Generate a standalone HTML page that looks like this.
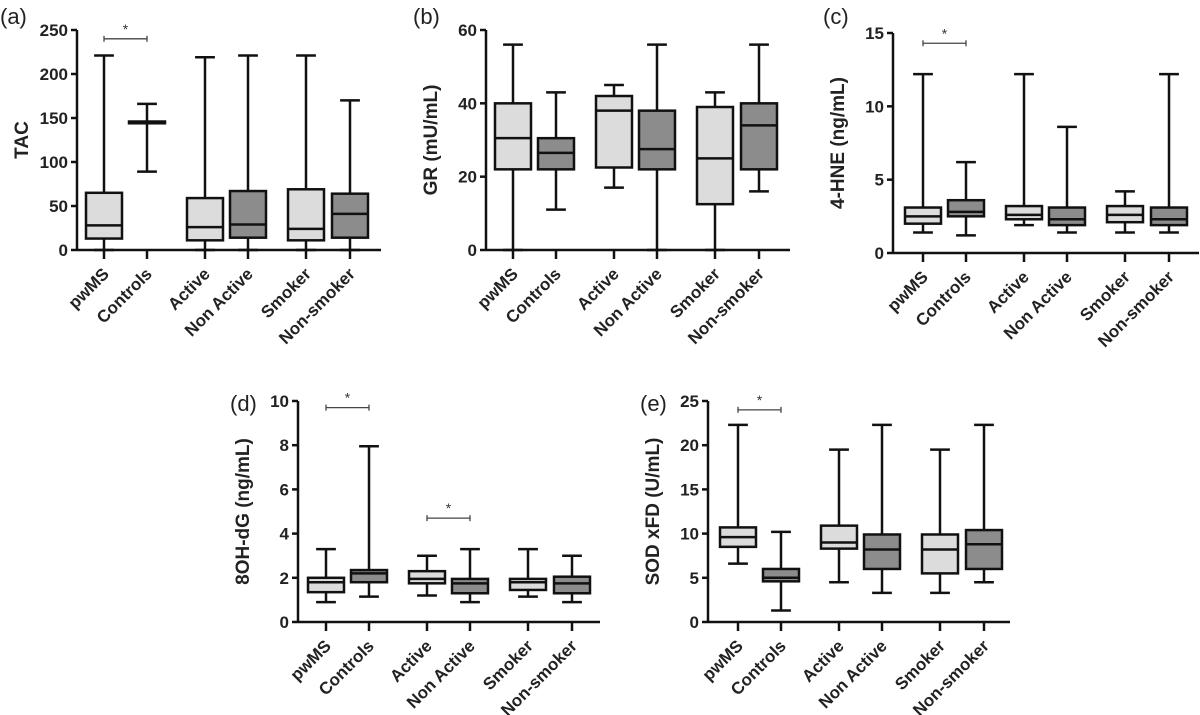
<!DOCTYPE html>
<html><head><meta charset="utf-8"><style>
body{margin:0;background:#fff;}
svg{display:block;font-family:"Liberation Sans",Arial,sans-serif;}
</style></head><body>
<svg id="fig" width="1200" height="715" viewBox="0 0 1200 715"></svg>
<script>
const categories=["pwMS","Controls","Active","Non Active","Smoker","Non-smoker"];
// each box: [min, q1, median, q3, max]
const tacValues=[[0,13,28,65,221],[89,144,145,146,166],[0,11,26,59,219],[0,14,29,67,221],[0,11,24,69,221],[0,14,41,64,170]];
const grValues=[[0,22,30.5,40,56],[11,22,26.5,30.5,43],[17,22.5,38,42,45],[0,22,27.5,38,56],[0,12.5,25,39,43],[16,22,34,40,56]];
const hneValues=[[1.4,2,2.5,3.1,12.2],[1.2,2.5,2.8,3.6,6.2],[1.9,2.3,2.6,3.2,12.2],[1.4,1.9,2.3,3.1,8.6],[1.4,2.1,2.6,3.2,4.2],[1.4,1.9,2.3,3.1,12.2]];
const ohdgValues=[[0.9,1.35,1.8,2.0,3.3],[1.15,1.8,2.2,2.35,7.95],[1.2,1.75,1.95,2.3,3.0],[0.9,1.3,1.75,1.95,3.3],[1.15,1.45,1.8,1.95,3.3],[0.9,1.3,1.75,2.05,3.0]];
const sodValues=[[6.6,8.5,9.6,10.7,22.3],[1.3,4.6,5.0,6.0,10.2],[4.5,8.3,9.0,10.9,19.5],[3.3,6.0,8.2,9.9,22.3],[3.3,5.5,8.2,9.9,19.5],[4.5,6.0,8.8,10.4,22.3]];
const tacTicks=[0,50,100,150,200,250];
const grTicks=[0,20,40,60];
const hneTicks=[0,5,10,15];
const ohdgTicks=[0,2,4,6,8,10];
const sodTicks=[0,5,10,15,20,25];
const tacSig=[[0,1,240]];
const grSig=[];
const hneSig=[[0,1,14.3]];
const ohdgSig=[[0,1,9.7],[2,3,4.7]];
const sodSig=[[0,1,24]];

const NS="http://www.w3.org/2000/svg";
const svg=document.getElementById('fig');
function mk(tag,attrs,parent){const e=document.createElementNS(NS,tag);for(const k in attrs)e.setAttribute(k,attrs[k]);(parent||svg).appendChild(e);return e;}

function panel(cfg){
  const g=mk('g',{});
  
  
  const yMax=cfg.ticks[cfg.ticks.length-1];
  const y=v=>cfg.y0-(v/yMax)*(cfg.y0-cfg.yTop);
  const x=i=>cfg.x0+cfg.first+cfg.offsets[i];
  const bw=36;
  const pl=mk('text',{x:cfg.lx,y:cfg.ly,'font-size':22,fill:'#222'},g);pl.textContent=cfg.label;
  
  
  const ya=mk('line',{x1:cfg.x0,y1:cfg.yTop,x2:cfg.x0,y2:cfg.y0,stroke:'#111','stroke-width':2.5},g);
  
  
  const xa=mk('line',{x1:cfg.x0,y1:cfg.y0,x2:cfg.xEnd,y2:cfg.y0,stroke:'#111','stroke-width':2.5},g);
  
  
  cfg.ticks.forEach(t=>{
    mk('line',{x1:cfg.x0-6,y1:y(t),x2:cfg.x0,y2:y(t),stroke:'#111','stroke-width':2.5},g);
    const tl=mk('text',{x:cfg.x0-9,y:y(t)+6,'font-size':17,'font-weight':'bold','text-anchor':'end',fill:'#222'},g);
    tl.textContent=t;
    
    
  });
  const yc=(cfg.yTop+cfg.y0)/2;
  const yt=mk('text',{x:cfg.x0-49,y:yc,'font-size':19,'font-weight':'bold','text-anchor':'middle',fill:'#222',transform:`rotate(-90 ${cfg.x0-49} ${yc})`},g);
  yt.textContent=cfg.title;
  
  
  categories.forEach((c,i)=>{
    const cx=x(i);const d=cfg.data[i];
    mk('line',{x1:cx,y1:cfg.y0,x2:cx,y2:cfg.y0+9,stroke:'#111','stroke-width':2.5},g);
    const lab=mk('text',{x:cx+6,y:cfg.y0+25,'font-size':17,'font-weight':'bold','text-anchor':'end',fill:'#222',transform:`rotate(-45 ${cx+6} ${cfg.y0+25})`},g);
    lab.textContent=c;
    
    
    const bg=mk('g',{},g);
    
    
    const cap=bw*0.55;
    mk('line',{x1:cx,y1:y(d[0]),x2:cx,y2:y(d[1]),stroke:'#111','stroke-width':2.5},bg);
    mk('line',{x1:cx,y1:y(d[3]),x2:cx,y2:y(d[4]),stroke:'#111','stroke-width':2.5},bg);
    mk('line',{x1:cx-cap/2,y1:y(d[0]),x2:cx+cap/2,y2:y(d[0]),stroke:'#111','stroke-width':2.5},bg);
    mk('line',{x1:cx-cap/2,y1:y(d[4]),x2:cx+cap/2,y2:y(d[4]),stroke:'#111','stroke-width':2.5},bg);
    const fill=i%2===0?'#dcdcdc':'#8c8c8c';
    mk('rect',{x:cx-bw/2,y:y(d[3]),width:bw,height:Math.max(1,y(d[1])-y(d[3])),fill:fill,stroke:'#111','stroke-width':2.5},bg);
    mk('line',{x1:cx-bw/2,y1:y(d[2]),x2:cx+bw/2,y2:y(d[2]),stroke:'#111','stroke-width':2.5},bg);
  });
  cfg.sig.forEach(s=>{
    const x1=x(s[0]),x2=x(s[1]),yy=y(s[2]);
    const sg=mk('g',{},g);
    
    
    mk('line',{x1:x1,y1:yy,x2:x2,y2:yy,stroke:'#444','stroke-width':1.3},sg);
    mk('line',{x1:x1,y1:yy-3,x2:x1,y2:yy+3,stroke:'#444','stroke-width':1.3},sg);
    mk('line',{x1:x2,y1:yy-3,x2:x2,y2:yy+3,stroke:'#444','stroke-width':1.3},sg);
    const st=mk('text',{x:(x1+x2)/2,y:yy-5,'font-size':14,'text-anchor':'middle',fill:'#333'},sg);st.textContent='*';
  });
}
const offs=[0,43,101,144,202,246];
panel({name:'panel-a-tac',label:'(a)',lx:0,ly:24,x0:77,first:27,offsets:offs,xEnd:381,y0:250,yTop:30,ticks:tacTicks,data:tacValues,title:'TAC',sig:tacSig});
panel({name:'panel-b-gr',label:'(b)',lx:413,ly:24,x0:486,first:27,offsets:offs,xEnd:790,y0:250,yTop:30,ticks:grTicks,data:grValues,title:'GR (mU/mL)',sig:grSig});
panel({name:'panel-c-4hne',label:'(c)',lx:823,ly:24,x0:893,first:30,offsets:offs,xEnd:1199,y0:253,yTop:33,ticks:hneTicks,data:hneValues,title:'4-HNE (ng/mL)',sig:hneSig});
panel({name:'panel-d-8ohdg',label:'(d)',lx:230,ly:411,x0:298,first:28,offsets:offs,xEnd:600,y0:622,yTop:401,ticks:ohdgTicks,data:ohdgValues,title:'8OH-dG (ng/mL)',sig:ohdgSig});
panel({name:'panel-e-sod',label:'(e)',lx:640,ly:411,x0:708,first:30,offsets:offs,xEnd:1010,y0:622,yTop:401,ticks:sodTicks,data:sodValues,title:'SOD xFD (U/mL)',sig:sodSig});
</script>
</body></html>
